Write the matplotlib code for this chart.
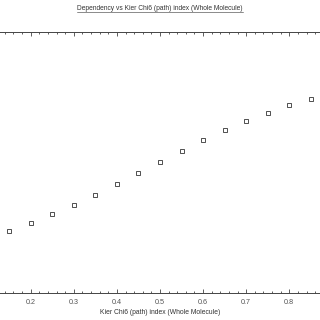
import numpy as np
import matplotlib
matplotlib.use("Agg")
import matplotlib.pyplot as plt
from matplotlib.ticker import MultipleLocator

# Data (y axis has no visible scale, relative units)
kier_chi6 = [0.15, 0.20, 0.25, 0.30, 0.35, 0.40, 0.45, 0.50,
             0.55, 0.60, 0.65, 0.70, 0.75, 0.80, 0.85]
dependency = [0.238, 0.267, 0.302, 0.337, 0.376, 0.418, 0.459, 0.504,
              0.545, 0.585, 0.623, 0.658, 0.691, 0.719, 0.744]
x_ticks = [0.2, 0.3, 0.4, 0.5, 0.6, 0.7, 0.8]

title = "Dependency vs Kier Chi6 (path) index (Whole Molecule)"
xlabel = "Kier Chi6 (path) index (Whole Molecule)"

plt.rcParams['font.family'] = ['Liberation Sans', 'DejaVu Sans']

fig = plt.figure(figsize=(3.2, 3.2), dpi=100)
# axes run past the left and right edges like in the reference crop
ax = fig.add_axes([-0.03875, 0.084, 1.0775, 0.816])

ax.plot(kier_chi6, dependency, linestyle='none', marker='s',
        markersize=3.4, markerfacecolor='white', markeredgecolor='#333333',
        markeredgewidth=0.6)

ax.set_xlim(0.1, 0.9)
ax.set_ylim(0, 1)
ax.set_xticks(x_ticks)
ax.set_xticklabels([f"{t:.1f}" for t in x_ticks])
ax.xaxis.set_minor_locator(MultipleLocator(0.02))
ax.tick_params(axis='x', which='both', direction='in', top=True,
               bottom=True, labelsize=5.2, labelcolor='#555555',
               color='#444444', width=0.6, pad=4.5)
ax.tick_params(axis='x', which='major', length=3.2)
ax.tick_params(axis='x', which='minor', length=1.5)
ax.set_yticks([])
for side in ['top', 'bottom']:
    ax.spines[side].set_linewidth(0.7)
    ax.spines[side].set_color('#444444')
for side in ['left', 'right']:
    ax.spines[side].set_visible(False)

ax.set_xlabel(xlabel, fontsize=4.9, color='#333333', labelpad=2.0)

# underlined title
t = fig.text(0.5, 0.985, title, ha='center', va='top', fontsize=4.8,
             color='#333333')
fig.canvas.draw()
bb = t.get_window_extent().transformed(fig.transFigure.inverted())
fig.add_artist(plt.Line2D([bb.x0, bb.x1], [bb.y0 - 0.002, bb.y0 - 0.002],
                          transform=fig.transFigure, color='#333333',
                          linewidth=0.4))

fig.savefig("out.png", dpi=100)
